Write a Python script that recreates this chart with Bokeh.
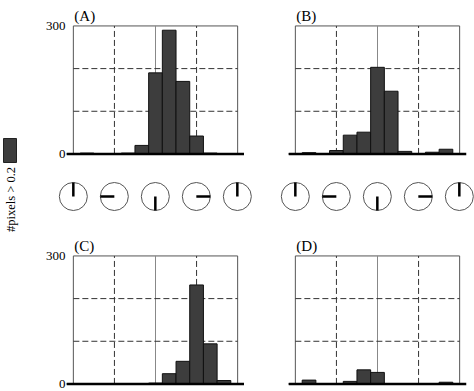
import numpy as np
from bokeh.plotting import figure
from bokeh.layouts import row, column
from bokeh.models import Range1d, Label, FixedTicker, Span
from bokeh.core.properties import value
from bokeh.embed import file_html
from bokeh.resources import INLINE

# ---- data ----
bin_centers = [0, 30, 60, 90, 120, 150, 180, 210, 240, 270, 300, 330]
counts_A = [0, 2, 0, 0, 2, 20, 190, 290, 170, 42, 2, 0]
counts_B = [0, 3, 1, 8, 44, 51, 203, 147, 6, 1, 4, 11]
counts_C = [0, 1, 0, 1, 0, 0, 2, 24, 53, 232, 94, 8]
counts_D = [0, 9, 1, 0, 6, 33, 27, 1, 0, 0, 0, 4]
panel_labels = ["(A)", "(B)", "(C)", "(D)"]
y_ticks = [0, 300]
v_grid_dashed = [90, 270]
v_grid_solid = [180]
h_grid = [100, 200]
stim_orient = [0, 90, 180, 270, 360]
y_label = "#pixels > 0.2"

BIN_W = 30
X0, X1 = 0, 360
Y0, Y1 = 0, 300
SERIF = "Liberation Serif"

PX_X = 164 / 360.0     # px per degree
PX_Y = 128 / 300.0     # px per count
XPAD = 15              # degrees of axis-line overhang each side
YPAD = 6


def hist_panel(counts, label, left_border, right_border, frame_h, bottom_border, show_y):
    y_end = -YPAD + frame_h / PX_Y
    p = figure(frame_width=round((X1 - X0 + 2 * XPAD) * PX_X), frame_height=frame_h,
               x_range=Range1d(X0 - XPAD, X1 + XPAD), y_range=Range1d(-YPAD, y_end),
               min_border_left=left_border, min_border_right=right_border,
               min_border_top=0, min_border_bottom=bottom_border,
               x_axis_location=None, y_axis_location="left" if show_y else None,
               toolbar_location=None, output_backend="svg")
    p.grid.visible = False
    p.outline_line_color = None
    # box
    p.quad(left=[X0], right=[X1], bottom=[Y0], top=[Y1], fill_color=None,
           line_color="#555555", line_width=1)
    # grid lines
    p.segment(x0=v_grid_dashed, x1=v_grid_dashed, y0=[Y0] * len(v_grid_dashed),
              y1=[Y1] * len(v_grid_dashed), line_color="#333333", line_width=1,
              line_dash="6 3")
    p.segment(x0=v_grid_solid, x1=v_grid_solid, y0=[Y0] * len(v_grid_solid),
              y1=[Y1] * len(v_grid_solid), line_color="#888888", line_width=1)
    p.segment(x0=[X0] * len(h_grid), x1=[X1] * len(h_grid), y0=h_grid, y1=h_grid,
              line_color="#333333", line_width=1, line_dash="6 3")
    # bars
    p.vbar(x=bin_centers, width=BIN_W, bottom=0, top=counts,
           fill_color="#3d3d3d", line_color="#111111", line_width=1)
    # baseline
    p.add_layout(Span(location=0, dimension="width", line_color="black", line_width=2.5))
    if show_y:
        ax = p.yaxis[0]
        ax.ticker = FixedTicker(ticks=y_ticks)
        ax.axis_line_color = None
        ax.major_tick_line_color = None
        ax.minor_tick_line_color = None
        ax.major_label_standoff = -5
        ax.major_label_text_font = SERIF
        ax.major_label_text_font_size = "13px"
        ax.major_label_text_color = "black"
    p.add_layout(Label(x=X0, y=Y1, text=label, x_offset=1, y_offset=10,
                       text_baseline="alphabetic", text_font=SERIF,
                       text_font_size="15px", text_color="black"))
    return p


def stim_panel(page_left, page_right, box_left):
    xs = (page_left - box_left) / PX_X
    xe = (page_right - box_left) / PX_X
    p = figure(frame_width=page_right - page_left, frame_height=70,
               x_range=Range1d(xs, xe), y_range=Range1d(-39, 31),
               min_border_left=0, min_border_right=0,
               min_border_top=0, min_border_bottom=0,
               x_axis_location=None, y_axis_location=None,
               toolbar_location=None, output_backend="svg")
    p.grid.visible = False
    p.outline_line_color = None
    ys = [0] * len(stim_orient)
    p.scatter(x=stim_orient, y=ys, marker="circle", size=28, fill_color=None,
              line_color="#555555", line_width=1)
    p.ray(x=stim_orient, y=ys, length=14, length_units="screen",
          angle=[np.deg2rad(90 + o) for o in stim_orient],
          line_color="black", line_width=2.5)
    return p


LEFT_W = 30
A_BORDER_L = 36   # frame left at page x 66
B_BORDER_L = 44   # frame left at page x 288
boxA_left = LEFT_W + A_BORDER_L + XPAD * PX_X
boxB_left = LEFT_W + A_BORDER_L + round((X1 - X0 + 2 * XPAD) * PX_X) + B_BORDER_L + XPAD * PX_X

pA = hist_panel(counts_A, panel_labels[0], A_BORDER_L, 0, 156, 9, True)
pB = hist_panel(counts_B, panel_labels[1], B_BORDER_L, 4, 156, 9, False)
sA = stim_panel(LEFT_W, 266, boxA_left)
sB = stim_panel(266, 474, boxB_left)
pC = hist_panel(counts_C, panel_labels[2], A_BORDER_L, 0, 151, 4, True)
pD = hist_panel(counts_D, panel_labels[3], B_BORDER_L, 4, 151, 4, False)

# left label column (y measured upward from bottom of this strip)
H_TOTAL = 165 + 70 + 155
left = figure(frame_width=LEFT_W, frame_height=H_TOTAL,
              x_range=Range1d(0, LEFT_W), y_range=Range1d(0, H_TOTAL),
              min_border_left=0, min_border_right=0, min_border_top=0, min_border_bottom=0,
              x_axis_location=None, y_axis_location=None,
              toolbar_location=None, output_backend="svg")
left.grid.visible = False
left.outline_line_color = None
top_of = lambda page_y: H_TOTAL - page_y
left.quad(left=[3], right=[16], top=[top_of(138)], bottom=[top_of(162)],
          fill_color="#3d3d3d", line_color="#222222", line_width=1)
left.text(x=[10], y=[top_of(199)], text=[y_label], angle=np.pi / 2,
          text_align="center", text_baseline="middle",
          text_font=value(SERIF), text_font_size="12.5px", text_color="black")

layout = row(left, column(row(pA, pB), row(sA, sB), row(pC, pD)))

open("out.html", "w").write(file_html(layout, INLINE))
